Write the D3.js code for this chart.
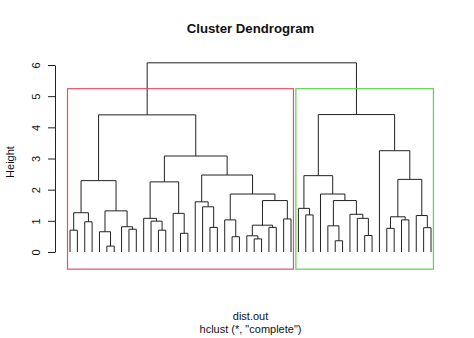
<!DOCTYPE html>
<html><head><meta charset="utf-8">
<script src="https://cdn.jsdelivr.net/npm/d3@7"></script>
<style>body{margin:0;background:#fff} svg{display:block}</style>
</head><body><svg id="c" width="474" height="338"></svg>
<script>
// ---- data (R hclust-style merge table; negative = leaf position, positive = earlier merge) ----
const leafCount = 50;
const mergeLeft  = [-1,-3,1,-6,-5,-9,-8,5,3,-13,-12,-11,-16,-15,12,-20,-19,-18,-23,-22,-26,-25,-28,22,-30,24,20,18,15,9,
                    -33,-32,-37,-36,-41,-40,-39,34,-35,32,-44,-46,41,-49,-48,43,-43,40,30];
const mergeRight = [-2,-4,2,-7,4,-10,6,7,8,-14,10,11,-17,13,14,-21,16,17,-24,19,-27,21,-29,23,-31,25,26,27,28,29,
                    -34,31,-38,33,-42,35,36,37,38,39,-45,-47,42,-50,44,45,46,47,48];
const mergeHeight = [0.70,0.97,1.26,0.19,0.65,0.73,0.81,1.32,2.29,0.70,0.99,1.08,0.60,1.24,2.25,0.79,1.45,1.61,0.49,1.03,
                     0.42,0.52,0.79,0.86,1.06,1.65,1.86,2.47,3.08,4.40,
                     1.19,1.40,0.36,0.84,0.53,1.08,1.21,1.65,1.86,2.45,0.76,1.03,1.13,0.78,1.17,2.33,3.25,4.41,6.07];
const yTicks = [0,1,2,3,4,5,6];
const clusterSizes = [31,19];
const clusterColors = ["#DF536B","#61D04F"];
const titleText = "Cluster Dendrogram";
const xLabelText = "dist.out";
const subText = 'hclust (*, "complete")';
const yLabelText = "Height";
const usrBottom = -0.55; // bottom of plotting region, in height units

// ---- scales ----
const svg = d3.select("#c");
const x = d3.scaleLinear().domain([1, leafCount]).range([70, 431]);
const y = d3.scaleLinear().domain([0, 6]).range([252, 65]);
const font = "'Liberation Sans', Arial, Helvetica, sans-serif";

// ---- node positions ----
const nodes = [];
const nx = id => id < 0 ? x(-id) : nodes[id - 1].x;
const nh = id => id < 0 ? 0 : nodes[id - 1].h;
mergeLeft.forEach((l, i) => {
  const r = mergeRight[i];
  nodes.push({x: (nx(l) + nx(r)) / 2, h: mergeHeight[i], l, r});
});

// ---- dendrogram ----
svg.append("g").selectAll("path").data(nodes).join("path")
  .attr("d", d => `M${nx(d.l)},${y(nh(d.l))}V${y(d.h)}H${nx(d.r)}V${y(nh(d.r))}`)
  .attr("fill", "none").attr("stroke", "#222").attr("stroke-width", 1);

// ---- rect.hclust boxes ----
const sortedH = mergeHeight.slice().sort((a, b) => b - a);
const rectTop = (sortedH[0] + sortedH[1]) / 2;
const cum = [0, ...Array.from(d3.cumsum(clusterSizes))];
svg.append("g").selectAll("rect").data(clusterSizes).join("rect")
  .attr("x", (d, i) => x(cum[i] + 0.66))
  .attr("width", (d, i) => x(cum[i + 1] + 0.33) - x(cum[i] + 0.66))
  .attr("y", y(rectTop))
  .attr("height", y(usrBottom) - y(rectTop))
  .attr("fill", "none").attr("stroke", (d, i) => clusterColors[i]).attr("stroke-width", 1.2);

// ---- y axis ----
const ax = svg.append("g").attr("transform", "translate(55,0)")
  .call(d3.axisLeft(y).tickValues(yTicks).tickSize(7).tickSizeOuter(0).tickFormat(d3.format("d")));
ax.select(".domain").attr("stroke", "#222");
ax.selectAll(".tick line").attr("stroke", "#222");
ax.selectAll(".tick text")
  .attr("x", null).attr("dy", "0.35em")
  .attr("transform", "translate(-19,0) rotate(-90)")
  .attr("text-anchor", "middle")
  .attr("font-family", font).attr("font-size", 11).attr("fill", "#111");

// ---- titles ----
svg.append("text").attr("x", 250.5).attr("y", 28).attr("dy", "0.35em")
  .attr("text-anchor", "middle").attr("font-family", font).attr("font-weight", "bold")
  .attr("font-size", 13.2).attr("fill", "#111").text(titleText);
svg.append("text").attr("x", 250.5).attr("y", 316).attr("dy", "0.35em")
  .attr("text-anchor", "middle").attr("font-family", font)
  .attr("font-size", 11).attr("fill", "#111").text(xLabelText);
svg.append("text").attr("x", 250.5).attr("y", 329).attr("dy", "0.35em")
  .attr("text-anchor", "middle").attr("font-family", font)
  .attr("font-size", 11).attr("fill", "#111").text(subText);
svg.append("text").attr("transform", "translate(10,162) rotate(-90)").attr("dy", "0.35em")
  .attr("text-anchor", "middle").attr("font-family", font)
  .attr("font-size", 11).attr("fill", "#111").text(yLabelText);
</script></body></html>
